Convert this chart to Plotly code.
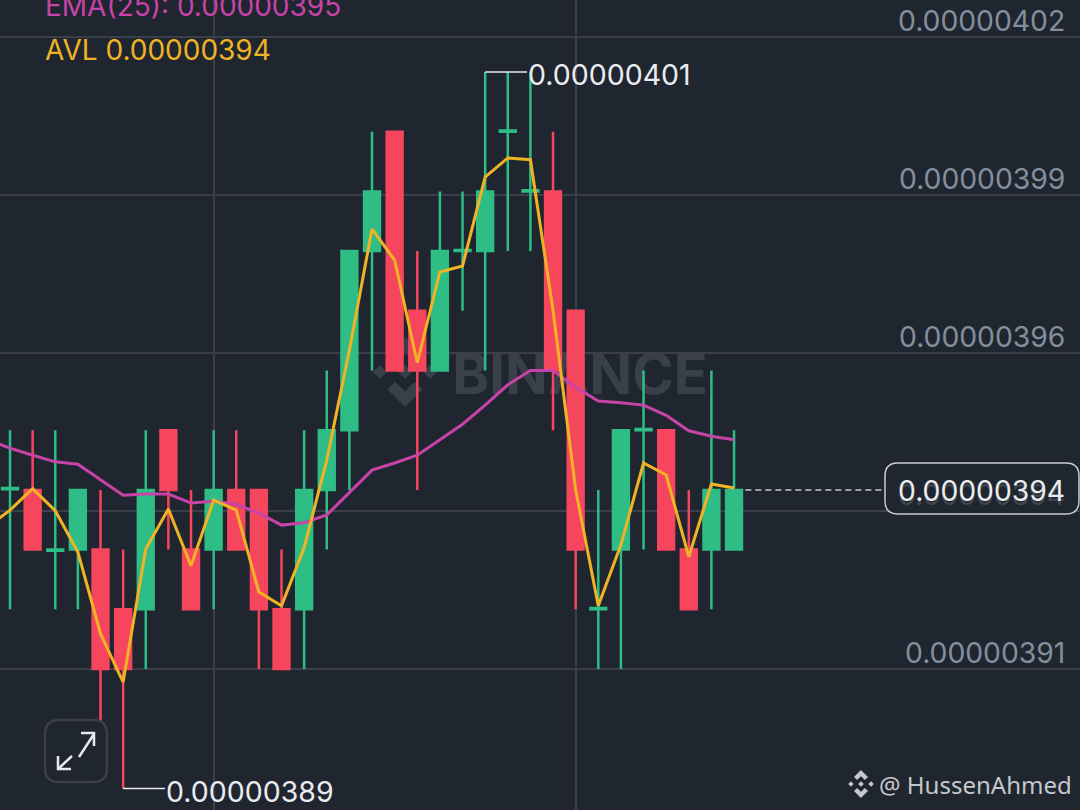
import plotly.graph_objects as go

# prices are in units of 0.00000001
opens = [393.0, 394.01, 394, 392.98, 393, 393, 392, 392, 395, 393, 393, 394, 394, 392, 392, 394, 395, 398, 400, 397,
         396, 398.0, 398, 400.0, 399.0, 399, 397, 392.0, 393, 395.0, 395, 393, 393, 393]
highs = [394, 395, 395, 395, 394, 394, 393, 395, 395, 394, 395, 395, 394, 393, 395, 396, 398, 400, 400, 398,
         399, 399, 401, 401, 401, 400, 397, 394, 395, 396, 395, 394, 396, 395]
lows = [392, 392, 393, 392, 392, 390, 389, 391, 393, 392, 392, 393, 391, 391, 391, 393, 394, 396, 396, 394,
        396, 397, 396, 398, 398, 395, 392, 391, 391, 393, 393, 392, 392, 393]
closes = [393.5, 394.03, 393, 393.0, 394, 391, 391, 394, 394, 392, 394, 393, 392, 391, 394, 395, 398, 399, 396, 396,
          398, 398.02, 399, 400.02, 399.02, 396, 393, 392.02, 395, 395.02, 393, 392, 394, 394]
avl = [393.38, 393.66, 394.02, 393.65, 392.96, 391.59, 390.78, 393.01, 393.68, 392.73, 393.83, 393.66, 392.29, 392.06,
       393.03, 394.50, 396.34, 398.37, 397.85, 396.13, 397.65, 397.75, 399.24, 399.56, 399.53, 397.01, 394.00, 392.06,
       393.08, 394.45, 394.25, 392.88, 394.10, 394.03]
ema = [394.84, 394.70, 394.58, 394.47, 394.43, 394.17, 393.91, 393.93, 393.93, 393.78, 393.81, 393.76, 393.61, 393.41,
       393.45, 393.58, 393.95, 394.33, 394.45, 394.58, 394.84, 395.10, 395.42, 395.76, 396.00, 396.00, 395.72, 395.49,
       395.46, 395.42, 395.25, 394.99, 394.90, 394.84]

grid_levels = [401.59, 398.94, 396.30, 393.65, 391.0]
grid_labels = ["0.00000402", "0.00000399", "0.00000396", "0.00000394", "0.00000391"]
grid_candles = [10, 26]

WIDTH = 1080
HEIGHT = 810
BG = "#1f2630"
GRID = "#3a3f49"
GREEN = "#2ebd85"
RED = "#f6465d"
YELLOW = "#f0b323"
PURPLE = "#c843a8"
WATERMARK = "#3a404a"
FONT = "Inter"

candle_x = list(range(len(opens)))
last_price = closes[-1]


def px(x, y):
    return f"{x / WIDTH:.5f},{1 - y / HEIGHT:.5f}"


def poly(points):
    return "M" + " L".join(px(x, y) for x, y in points) + " Z"


def rounded_box(x0, y0, x1, y1, r):
    return (f"M{px(x0 + r, y0)} L{px(x1 - r, y0)} Q{px(x1, y0)} {px(x1, y0 + r)} "
            f"L{px(x1, y1 - r)} Q{px(x1, y1)} {px(x1 - r, y1)} "
            f"L{px(x0 + r, y1)} Q{px(x0, y1)} {px(x0, y1 - r)} "
            f"L{px(x0, y0 + r)} Q{px(x0, y0)} {px(x0 + r, y0)} Z")


def logo_shapes(cx, cy, size, color, layer):
    parts = [
        [(0, -0.2), (0.2, 0), (0, 0.2), (-0.2, 0)],
        [(-0.72, -0.2), (-0.52, 0), (-0.72, 0.2), (-0.92, 0)],
        [(0.72, -0.2), (0.92, 0), (0.72, 0.2), (0.52, 0)],
        [(0, -1), (0.5, -0.5), (0.28, -0.28), (0, -0.56), (-0.28, -0.28), (-0.5, -0.5)],
        [(0, 1), (0.5, 0.5), (0.28, 0.28), (0, 0.56), (-0.28, 0.28), (-0.5, 0.5)],
    ]
    out = []
    for part in parts:
        pts = [(cx + a * size, cy + b * size) for a, b in part]
        out.append(dict(type="path", xref="paper", yref="paper", path=poly(pts), fillcolor=color,
                        line=dict(width=0), layer=layer))
    return out


fig = go.Figure()
fig.add_trace(go.Candlestick(
    x=candle_x, open=opens, high=highs, low=lows, close=closes,
    increasing=dict(line=dict(color=GREEN, width=2.5), fillcolor=GREEN),
    decreasing=dict(line=dict(color=RED, width=2.5), fillcolor=RED),
    whiskerwidth=0, hoverinfo="skip",
))
fig.add_trace(go.Scatter(x=candle_x, y=ema, mode="lines", line=dict(color=PURPLE, width=3), hoverinfo="skip"))
fig.add_trace(go.Scatter(x=candle_x, y=avl, mode="lines", line=dict(color=YELLOW, width=3), hoverinfo="skip"))

shapes = []
# watermark, behind the candles
shapes.append(dict(type="rect", xref="paper", yref="paper", x0=440 / WIDTH, x1=720 / WIDTH,
                   y0=1 - 399 / HEIGHT, y1=1 - 345 / HEIGHT, layer="below", line=dict(width=0),
                   label=dict(text="<b>BINANCE</b>", font=dict(family=FONT, size=56, color=WATERMARK),
                              textposition="middle center")))
shapes += logo_shapes(405, 372, 35, WATERMARK, "below")

# high and low markers
hi_idx = highs.index(max(highs))
lo_idx = lows.index(min(lows))
shapes.append(dict(type="line", x0=candle_x[hi_idx], x1=candle_x[hi_idx] + 1.85, y0=max(highs), y1=max(highs),
                   line=dict(color="#e8eaed", width=1.5)))
shapes.append(dict(type="line", x0=candle_x[lo_idx], x1=candle_x[lo_idx] + 1.85, y0=min(lows), y1=min(lows),
                   line=dict(color="#e8eaed", width=1.5)))

# last price tag
shapes.append(dict(type="line", x0=candle_x[-1] + 0.5, x1=candle_x[-1] + 6.7, y0=last_price, y1=last_price,
                   line=dict(color="#c9ccd1", width=1.5, dash="6px,4px")))
shapes.append(dict(type="path", xref="paper", yref="paper", path=rounded_box(885, 463, 1079, 514, 13),
                   fillcolor=BG, line=dict(color="#c9ccd1", width=1.5)))

# expand button
shapes.append(dict(type="path", xref="paper", yref="paper", path=rounded_box(45, 720, 107, 782, 14),
                   fillcolor=BG, line=dict(color="#3a3f49", width=2.5)))
shapes.append(dict(type="path", xref="paper", yref="paper",
                   path=(f"M{px(79, 757)} L{px(94, 734)} M{px(81, 733)} L{px(94, 733)} L{px(94, 746)} "
                         f"M{px(72, 756)} L{px(58, 769)} M{px(58, 756)} L{px(58, 769)} L{px(71, 769)}"),
                   line=dict(color="#e6e8eb", width=2.5)))
shapes += logo_shapes(861, 784, 14, "#c4c7cc", "above")

annotations = []
for level, label in zip(grid_levels, grid_labels):
    hidden = label == "0.00000394"
    annotations.append(dict(xref="paper", yref="y", x=1067 / WIDTH, y=level, yshift=-3, text=label,
                            xanchor="right", yanchor="bottom", showarrow=False,
                            font=dict(family=FONT, size=28.3, color="#3f444d" if hidden else "#848e9c")))

annotations.append(dict(xref="paper", yref="y", x=1067 / WIDTH, y=last_price, yshift=-1, text=grid_labels[3],
                        xanchor="right", yanchor="middle", showarrow=False,
                        font=dict(family=FONT, size=28.3, color="#eaecef")))
annotations.append(dict(xref="x", yref="y", x=candle_x[hi_idx] + 1.8, y=max(highs), yshift=-2, text="0.00000401",
                        xanchor="left", yanchor="middle", showarrow=False,
                        font=dict(family=FONT, size=28.5, color="#eaecef")))
annotations.append(dict(xref="x", yref="y", x=candle_x[lo_idx] + 1.8, y=min(lows), yshift=-3, text="0.00000389",
                        xanchor="left", yanchor="middle", showarrow=False,
                        font=dict(family=FONT, size=28.5, color="#eaecef")))
annotations.append(dict(xref="paper", yref="paper", x=43 / WIDTH, y=1 - 6 / HEIGHT, text="EMA(25): 0.00000395",
                        xanchor="left", yanchor="middle", showarrow=False,
                        font=dict(family=FONT, size=28, color=PURPLE)))
annotations.append(dict(xref="paper", yref="paper", x=43 / WIDTH, y=1 - 50 / HEIGHT, text="AVL 0.00000394",
                        xanchor="left", yanchor="middle", showarrow=False,
                        font=dict(family=FONT, size=28, color=YELLOW)))
annotations.append(dict(xref="paper", yref="paper", x=1074 / WIDTH, y=1 - 784 / HEIGHT, text="@ HussenAhmed",
                        xanchor="right", yanchor="middle", showarrow=False,
                        font=dict(family="Noto Sans", size=24, color="#c4c7cc")))

fig.update_layout(
    width=WIDTH, height=HEIGHT,
    margin=dict(l=0, r=0, t=0, b=0),
    paper_bgcolor=BG, plot_bgcolor=BG,
    showlegend=False,
    boxgap=0,
    shapes=shapes,
    annotations=annotations,
    xaxis=dict(range=[0.558, 48.29], tickvals=grid_candles, showticklabels=False, ticks="",
               showgrid=True, gridcolor=GRID, gridwidth=1.5, zeroline=False,
               rangeslider=dict(visible=False), fixedrange=True),
    yaxis=dict(range=[388.638, 402.206], tickvals=grid_levels, showticklabels=False, ticks="",
               showgrid=True, gridcolor=GRID, gridwidth=1.5, zeroline=False, fixedrange=True),
)

fig.write_html("out.html", config=dict(displayModeBar=False), post_script="document.body.style.margin='0';")
